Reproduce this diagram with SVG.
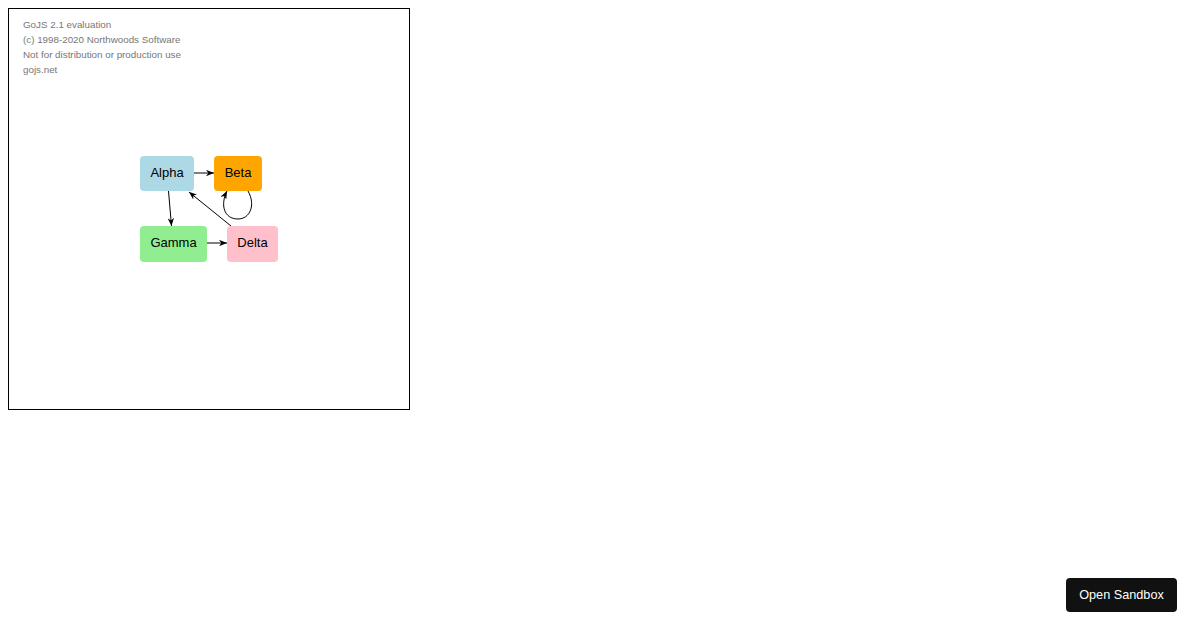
<svg xmlns="http://www.w3.org/2000/svg" width="1200" height="630" viewBox="0 0 1200 630">
<style>
.wm{font-family:"Liberation Sans",Arial,sans-serif;font-size:9.8px;fill:#777}
.lbl{font-family:"Liberation Sans",Arial,sans-serif;font-size:13px;fill:#000;text-anchor:middle}
.edge{fill:none;stroke:#000;stroke-width:1;marker-end:url(#arr)}
</style>
<defs>
<marker id="arr" viewBox="0 0 10 8" refX="10" refY="4" markerWidth="8" markerHeight="6.4" orient="auto" markerUnits="userSpaceOnUse">
<path d="M0,0 L10,4 L0,8 L3,4 Z" fill="#000"/>
</marker>
</defs>
<rect width="1200" height="630" fill="#fff"/>
<rect x="8.5" y="8.5" width="401" height="401" fill="#fff" stroke="#000" stroke-width="1"/>
<g id="watermark">
<text class="wm" x="23" y="27.5">GoJS 2.1 evaluation</text>
<text class="wm" x="23" y="42.5">(c) 1998-2020 Northwoods Software</text>
<text class="wm" x="23" y="57.5">Not for distribution or production use</text>
<text class="wm" x="23" y="72.5">gojs.net</text>
</g>
<g id="connectors">
<path class="edge" d="M194,173 L214,173"/>
<path class="edge" d="M168.5,191 L171.5,226"/>
<path class="edge" d="M207,243 L227,243"/>
<path class="edge" d="M231,226 L189,192"/>
<path class="edge" d="M248,191 C256,205 250,219 238,219 C224,219 220,205 227,191"/>
</g>
<g id="alpha">
<rect x="140" y="156" width="54" height="35" rx="4" fill="#add8e6"/>
<text class="lbl" x="167" y="177">Alpha</text>
</g>
<g id="beta">
<rect x="214" y="156" width="48" height="35" rx="4" fill="#ffa500"/>
<text class="lbl" x="238" y="177">Beta</text>
</g>
<g id="gamma">
<rect x="140" y="226" width="67" height="36" rx="4" fill="#90ee90"/>
<text class="lbl" x="173.5" y="247">Gamma</text>
</g>
<g id="delta">
<rect x="227" y="226" width="51" height="36" rx="4" fill="#ffc0cb"/>
<text class="lbl" x="252.5" y="247">Delta</text>
</g>
<g id="open-sandbox">
<rect x="1066" y="578" width="111" height="34" rx="4" fill="#111"/>
<text x="1121.5" y="598.5" style="font-family:'Liberation Sans',Arial,sans-serif;font-size:12.7px;fill:#fff;text-anchor:middle">Open Sandbox</text>
</g>
</svg>
